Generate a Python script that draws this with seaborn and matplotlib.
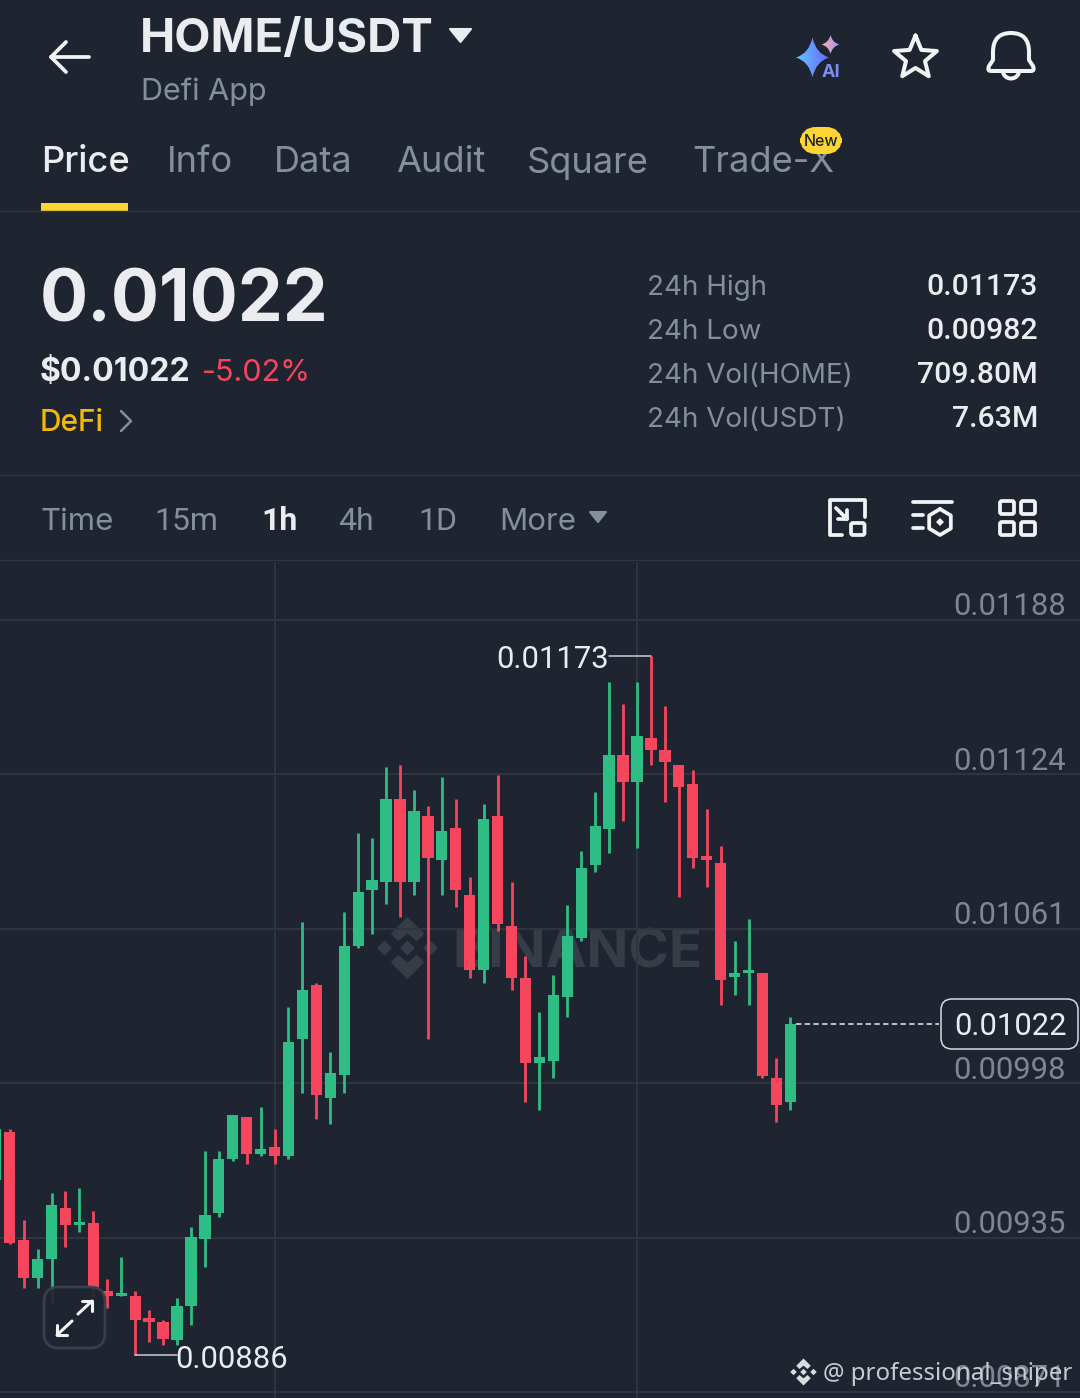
import numpy as np
import pandas as pd
import seaborn as sns
import matplotlib
matplotlib.use('Agg')
import matplotlib.pyplot as plt
from matplotlib.path import Path
from matplotlib.patches import PathPatch, FancyBboxPatch, Polygon, Rectangle
from matplotlib.colors import LinearSegmentedColormap

# candle values (in 1e-6 USDT)
opens = [9581, 9778, 9334, 9178, 9256, 9466, 9396, 9404, 9125, 9104, 9104, 9014, 8997, 8924, 9063, 9338,
         9445, 9667, 9839, 9687, 9716, 9679, 10159, 10381, 9917, 10012, 10541, 10771, 10804, 11145, 10804,
         11075, 10894, 11026, 10751, 10443, 11075, 10623, 10410, 10061, 10069, 10332, 10574, 10874, 11022,
         11326, 11215, 11395, 11346, 11285, 11207, 10911, 10882, 10414, 10431, 10431, 9999, 9901]
highs = [9790, 9790, 9416, 9297, 9527, 9535, 9548, 9453, 9174, 9264, 9125, 9047, 9006, 9096, 9387, 9700,
         9700, 9847, 9839, 9880, 9790, 10291, 10640, 10389, 10106, 10681, 11005, 10985, 11276, 11285, 11182,
         11116, 11235, 11145, 10825, 11124, 11244, 10804, 10500, 10270, 10422, 10710, 10931, 11174, 11625,
         11535, 11625, 11730, 11527, 11285, 11264, 11104, 10952, 10562, 10652, 10431, 10081, 10250]
lows = [9581, 9318, 9137, 9137, 9075, 9305, 9367, 9100, 9055, 9104, 8860, 8915, 8903, 8903, 8985, 9223,
        9429, 9659, 9646, 9679, 9646, 9667, 9938, 9831, 9810, 9938, 10533, 10591, 10714, 10660, 10751,
        10159, 10751, 10701, 10410, 10389, 10603, 10361, 9901, 9868, 9999, 10250, 10562, 10845, 10923,
        11055, 10944, 11285, 11133, 10743, 10862, 10784, 10299, 10340, 10299, 9999, 9819, 9868]
closes = [9790, 9322, 9178, 9256, 9478, 9396, 9408, 9141, 9104, 9116, 9006, 8997, 8928, 9063, 9346, 9437,
          9667, 9847, 9687, 9708, 9679, 10147, 10361, 9929, 10020, 10541, 10763, 10812, 11145, 10804, 11096,
          10903, 11014, 10771, 10443, 11063, 10632, 10410, 10061, 10086, 10340, 10582, 10862, 11034, 11326,
          11215, 11404, 11346, 11297, 11194, 10903, 10894, 10402, 10431, 10443, 10007, 9888, 10220]

# axis labels are rounded, the gridlines themselves are evenly spaced
tick_prices = [0.01188, 0.011247, 0.010612, 0.009978, 0.009343, 0.00871]
tick_labels = ['0.01188', '0.01124', '0.01061', '0.00998', '0.00935', '0.00871']
grid_candles = [20, 46]
high_price, low_price, last_price = 0.01173, 0.00886, 0.01022

tab_names = ['Price', 'Info', 'Data', 'Audit', 'Square', 'Trade-X']
tab_x = [41, 167, 274, 396, 527, 692]
stat_names = ['24h High', '24h Low', '24h Vol(HOME)', '24h Vol(USDT)']
stat_values = ['0.01173', '0.00982', '709.80M', '7.63M']
stat_y = [295, 339, 383, 427]
period_names = ['Time', '15m', '1h', '4h', '1D', 'More']
period_x = [40, 154, 261, 338, 418, 499]

BG = '#1e2530'
GRID = '#30363f'
GREEN = '#2ebd85'
RED = '#f6465d'
WHITE = '#eaecef'
GREY = '#848e9c'
YELLOW = '#f0b90b'
NUM = ['Roboto', 'DejaVu Sans']

sns.set_theme(style='dark', rc={'figure.facecolor': BG, 'axes.facecolor': BG})
plt.rcParams['font.family'] = ['Inter', 'DejaVu Sans']

W, H = 1080, 1398
fig = plt.figure(figsize=(W / 100, H / 100), dpi=100, facecolor=BG)


def pixel_axes(z):
    a = fig.add_axes([0, 0, 1, 1], zorder=z)
    a.set_xlim(0, W)
    a.set_ylim(H, 0)
    a.axis('off')
    return a


under = pixel_axes(0)
over = pixel_axes(2)

# chart axes, price scale fitted to the gridlines of the screenshot
ax = fig.add_axes([0, 0, 1, (H - 562) / H], zorder=1)
ax.patch.set_visible(False)

df = pd.DataFrame({'k': range(len(opens)), 'open': opens, 'high': highs, 'low': lows, 'close': closes})
df[['open', 'high', 'low', 'close']] *= 1e-6
df['up'] = df['close'] >= df['open']
df['base'] = df[['open', 'close']].min(axis=1)
df['size'] = (df['close'] - df['open']).abs()

ax.vlines(df['k'], df['low'], df['high'], colors=np.where(df['up'], GREEN, RED), linewidth=2.0, zorder=2)
for up, col in [(True, GREEN), (False, RED)]:
    sub = df[df['up'] == up]
    sns.barplot(data=sub, x='k', y='size', native_scale=True, color=col, saturation=1, width=0.81,
                errorbar=None, bottom=sub['base'].values, linewidth=0, ax=ax, zorder=3)

for p in tick_prices:
    ax.axhline(p, color=GRID, lw=1.4, zorder=1)
for k in grid_candles:
    ax.axvline(k, color=GRID, lw=1.4, zorder=1)
for p, lab in zip(tick_prices, tick_labels):
    ax.annotate(lab, xy=(1066 / W, p), xycoords=('axes fraction', 'data'), xytext=(0, 3.3),
                textcoords='offset points', ha='right', va='baseline', fontsize=22.3, color='#7f8691', family=NUM)

ax.plot([47, 44], [high_price, high_price], color='#c9ccd1', lw=1.1, zorder=2)
ax.annotate(f'{high_price:.5f}', xy=(44, high_price), xytext=(0, -8), textcoords='offset points', color=WHITE,
            fontsize=22.3, ha='right', va='baseline', family=NUM)
ax.plot([10, 13], [low_price, low_price], color='#c9ccd1', lw=1.1, zorder=2)
ax.annotate(f'{low_price:.5f}', xy=(12.9, low_price), xytext=(0, -9), textcoords='offset points', color=WHITE,
            fontsize=22.3, ha='left', va='baseline', family=NUM)
ax.plot([57.4, 67.7], [last_price, last_price], color=WHITE, lw=1.1, ls=(0, (3.5, 2.2)), zorder=2)

ax.set_xlim(0.304, 77.78)
ax.set_ylim(0.008685, 0.012118)
ax.set_xlabel('')
ax.set_ylabel('')
ax.set_xticks([])
ax.set_yticks([])
sns.despine(ax=ax, left=True, bottom=True)


def txt(a, x, y, s, size, col=WHITE, weight='normal', ha='left', **kw):
    return a.text(x, y, s, fontsize=size, color=col, fontweight=weight, ha=ha, va='baseline', **kw)


def bnb_logo(a, cx, cy, r, col, **kw):
    # binance diamond logo
    top = [(0, 1), (.54, .46), (.3, .22), (0, .47), (-.3, .22), (-.54, .46)]
    parts = [top, [(x, -y) for x, y in top]]
    for dx in (-.74, 0, .74):
        parts.append([(dx - .24, 0), (dx, .24), (dx + .24, 0), (dx, -.24)])
    for part in parts:
        a.add_patch(Polygon([(cx + x * r, cy - y * r) for x, y in part], closed=True, fc=col, ec='none', **kw))


def sparkle(a, cx, cy, rx, ry, c0, c1):
    verts = [(cx, cy - ry), (cx + rx * .2, cy - ry * .2), (cx + rx, cy), (cx + rx * .2, cy + ry * .2),
             (cx, cy + ry), (cx - rx * .2, cy + ry * .2), (cx - rx, cy), (cx - rx * .2, cy - ry * .2),
             (cx, cy - ry)]
    codes = [Path.MOVETO] + [Path.CURVE3] * 8
    patch = PathPatch(Path(verts, codes), fc='none', ec='none', transform=a.transData)
    a.add_patch(patch)
    cm = LinearSegmentedColormap.from_list('sp', [c0, c1])
    im = a.imshow(np.linspace(0, 1, 64).reshape(1, -1), extent=(cx - rx, cx + rx, cy + ry, cy - ry),
                  cmap=cm, aspect='auto', zorder=3)
    im.set_clip_path(patch)


def stroke(a, pts, lw=2.7, col='#f2f3f5', closed=False):
    xs, ys = zip(*(list(pts) + ([pts[0]] if closed else [])))
    a.plot(xs, ys, color=col, lw=lw, solid_capstyle='round', solid_joinstyle='round')


# watermark, behind the candles
bnb_logo(under, 407.5, 948, 31, '#373d47')
txt(under, 452, 967, 'BINANCE', 39.5, '#373d47', 'bold')

# header
stroke(over, [(51, 57), (89, 57)])
stroke(over, [(66, 42), (51, 57), (66, 72)])
txt(over, 140, 52, 'HOME/USDT', 34, WHITE, 'bold')
over.add_patch(Polygon([(450, 29), (471, 29), (460.5, 42)], closed=True, fc=WHITE, ec=WHITE, lw=1.5, joinstyle='round'))
txt(over, 141, 100, 'Defi App', 22, GREY)

sparkle(over, 812.5, 57.5, 16.5, 20, '#5fc8ff', '#6a66ff')
sparkle(over, 830.5, 44.5, 9, 9.5, '#f0b0b0', '#a890f5')
txt(over, 822, 77, 'AI', 13, '#7d8cf2', 'bold')

star = []
for j in range(10):
    rad = 22.5 if j % 2 == 0 else 10
    ang = np.pi / 2 + j * np.pi / 5
    star.append((915.5 + rad * np.cos(ang), 58 - rad * np.sin(ang)))
stroke(over, star, lw=2.9, closed=True)

bell = Path([(991, 71), (1031, 71), (1035, 71), (1033, 66), (1029, 60), (1029, 52), (1029, 33), (1011, 33),
             (993, 33), (993, 52), (993, 60), (989, 66), (987, 71), (991, 71)],
            [Path.MOVETO, Path.LINETO, Path.CURVE3, Path.CURVE3, Path.LINETO, Path.LINETO, Path.CURVE3, Path.CURVE3,
             Path.CURVE3, Path.CURVE3, Path.LINETO, Path.LINETO, Path.CURVE3, Path.CURVE3])
over.add_patch(PathPatch(bell, fc='none', ec='#f2f3f5', lw=2.9, joinstyle='round'))
t = np.linspace(0, np.pi, 20)
stroke(over, list(zip(1011 + 8 * np.cos(t), 71 + 7.5 * np.sin(t))), lw=2.9)

# tabs
for name, x in zip(tab_names, tab_x):
    active = name == 'Price'
    txt(over, x, 172.5, name, 26.1, WHITE if active else GREY, 'medium' if active else 'normal')
over.add_patch(Rectangle((41, 203), 87, 8, fc='#fcd535', ec='none'))
over.add_patch(FancyBboxPatch((808, 135), 26, 11, boxstyle='round,pad=0,rounding_size=8', mutation_aspect=1,
                              fc='#fcd535', ec='#fcd535', lw=8 * 0.72 * 2, zorder=4))
txt(over, 821, 146, 'New', 11.5, '#1e2329', 'medium', ha='center', zorder=5)

for y in (211, 475, 560):
    over.plot([0, W], [y, y], color=GRID, lw=1)

# price block
txt(over, 40, 321, '0.01022', 51.4, WHITE, 'bold')
txt(over, 40, 381, '$0.01022', 23, WHITE, 'bold')
txt(over, 202, 381, '-5.02%', 22, RED)
txt(over, 40, 431, 'DeFi', 21.5, YELLOW, 'medium')
stroke(over, [(121, 411), (131, 421), (121, 431)], lw=1.8, col=GREY)
for name, val, y in zip(stat_names, stat_values, stat_y):
    txt(over, 647, y, name, 20, GREY)
    txt(over, 1038, y, val, 21.8, WHITE, 'medium', ha='right', family=NUM)

# period row
for name, x in zip(period_names, period_x):
    active = name == '1h'
    fam = NUM if name in ('15m', '1h', '4h', '1D') else ['Inter', 'DejaVu Sans']
    txt(over, x, 530, name, 23 if fam is NUM else 22.5, WHITE if active else GREY,
        'bold' if active else 'normal', family=fam)
over.add_patch(Polygon([(590, 512), (606, 512), (598, 522)], closed=True, fc=GREY, ec=GREY, lw=1.5, joinstyle='round'))

# toolbar icons
stroke(over, [(865, 517), (865, 500), (829.5, 500), (829.5, 535), (842, 535)])
over.add_patch(FancyBboxPatch((851, 523), 13.5, 12, boxstyle='round,pad=0,rounding_size=2', fc='none', ec='#f2f3f5', lw=2.7))
stroke(over, [(836, 508), (847, 519)])
stroke(over, [(847, 510), (847, 519), (838, 519)])
stroke(over, [(913, 502), (952, 502)])
stroke(over, [(913, 515), (923, 515)])
stroke(over, [(913, 528), (923, 528)])
hexa = [(940 + 12.5 * np.sin(j * np.pi / 3), 522 - 13 * np.cos(j * np.pi / 3)) for j in range(6)]
stroke(over, hexa, closed=True)
over.add_patch(Polygon([(940, 518), (944, 522), (940, 526), (936, 522)], closed=True, fc='#f2f3f5', ec='none'))
for x0 in (1000, 1021):
    for y0 in (501, 522):
        over.add_patch(FancyBboxPatch((x0, y0), 14, 13, boxstyle='round,pad=0,rounding_size=2', fc='none',
                                      ec='#f2f3f5', lw=2.7))

# last price tag
over.add_patch(FancyBboxPatch((941, 999), 137, 50, boxstyle='round,pad=0,rounding_size=11', fc=BG, ec='#d8dade', lw=1.1, zorder=4))
txt(over, 1010, 1035, f'{last_price:.5f}', 22.3, WHITE, ha='center', zorder=5, family=NUM)

# expand button
over.add_patch(FancyBboxPatch((44, 1287), 61, 61, boxstyle='round,pad=0,rounding_size=15', fc=BG, ec='#3c424c', lw=2, alpha=0.92))
stroke(over, [(57, 1335), (72, 1321)], lw=2.2)
stroke(over, [(57, 1325), (57, 1335), (67, 1335)], lw=2.2)
stroke(over, [(78, 1314), (92, 1301)], lw=2.2)
stroke(over, [(82, 1301), (92, 1301), (92, 1311)], lw=2.2)

# author watermark
bnb_logo(over, 803.5, 1372, 13.5, '#d9dbde')
txt(over, 823, 1380, '@ professional_sniper', 17.3, '#c8cbd0', family=['Noto Sans', 'DejaVu Sans'])

fig.savefig('out.png', dpi=100, facecolor=BG)
